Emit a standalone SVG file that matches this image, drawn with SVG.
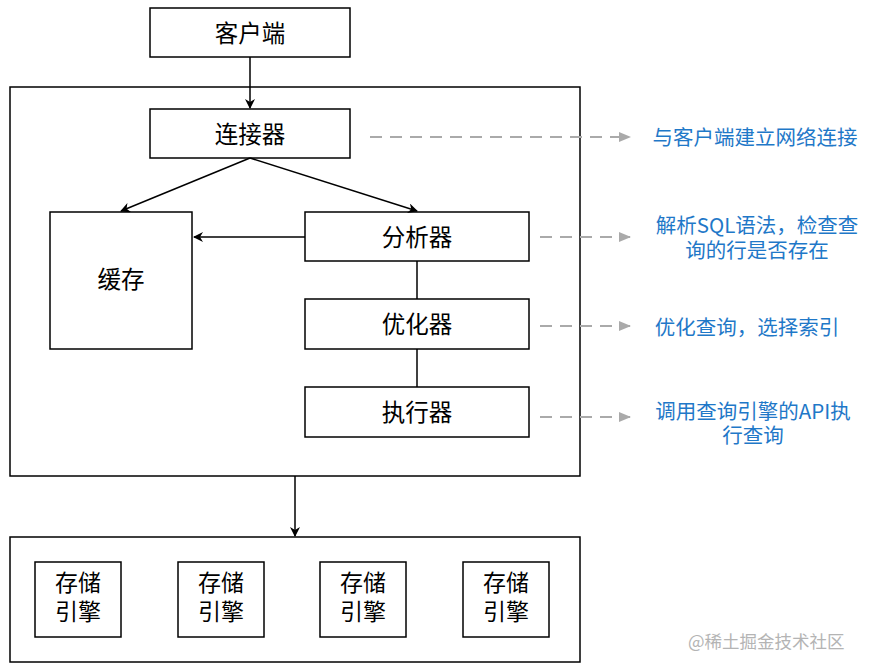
<svg xmlns="http://www.w3.org/2000/svg" width="871" height="671" viewBox="0 0 871 671">
<style>
.box{fill:#fff;stroke:#000;stroke-width:1.5}
.lbl{font-family:"Noto Sans CJK SC","Microsoft YaHei",sans-serif;font-size:23.5px;fill:#000;text-anchor:middle;dominant-baseline:central}
.eng{font-family:"Noto Sans CJK SC","Microsoft YaHei",sans-serif;font-size:23px;fill:#000;text-anchor:middle}
.note{font-family:"Noto Sans CJK SC","Microsoft YaHei",sans-serif;font-size:20.5px;fill:#1f78c8;text-anchor:middle;dominant-baseline:central}
.ln{stroke:#000;stroke-width:1.5;fill:none}
.dash{stroke:#aaa;stroke-width:2;stroke-dasharray:12 8;fill:none}
.wm{font-family:"Noto Sans CJK SC",sans-serif;font-size:17.5px;fill:#b4b4b4;dominant-baseline:central}
</style>
<defs>
<marker id="ah" markerWidth="10" markerHeight="10" refX="9" refY="5" orient="auto" markerUnits="userSpaceOnUse"><path d="M0,0 L10,5 L0,10 L3,5 Z" fill="#000"/></marker>
<marker id="gh" markerWidth="12" markerHeight="12" refX="11" refY="6" orient="auto" markerUnits="userSpaceOnUse"><path d="M0,1 L12,6 L0,11 Z" fill="#aaa"/></marker>
</defs>
<rect x="0" y="0" width="871" height="671" fill="#fff"/>
<g id="server"><rect class="box" x="10" y="87" width="570" height="389"/></g>
<g id="client"><rect class="box" x="150" y="8" width="200" height="49"/><text class="lbl" x="250" y="32">客户端</text></g>
<g id="connector"><rect class="box" x="150" y="109" width="200" height="49"/><text class="lbl" x="250" y="133">连接器</text></g>
<g id="cache"><rect class="box" x="50" y="212" width="142" height="137"/><text class="lbl" x="121" y="278">缓存</text></g>
<g id="analyzer"><rect class="box" x="305" y="212" width="224" height="49"/><text class="lbl" x="417" y="236">分析器</text></g>
<g id="optimizer"><rect class="box" x="305" y="299" width="224" height="50"/><text class="lbl" x="417" y="323">优化器</text></g>
<g id="executor"><rect class="box" x="305" y="387" width="224" height="50"/><text class="lbl" x="417" y="411">执行器</text></g>
<g id="storage"><rect class="box" x="10" y="537" width="570" height="125"/></g>
<g id="engine1"><rect class="box" x="35" y="562" width="86" height="75"/><text class="eng" x="78" y="591">存储<tspan x="78" dy="29">引擎</tspan></text></g>
<g id="engine2"><rect class="box" x="178" y="562" width="86" height="75"/><text class="eng" x="221" y="591">存储<tspan x="221" dy="29">引擎</tspan></text></g>
<g id="engine3"><rect class="box" x="320" y="562" width="86" height="75"/><text class="eng" x="363" y="591">存储<tspan x="363" dy="29">引擎</tspan></text></g>
<g id="engine4"><rect class="box" x="463" y="562" width="86" height="75"/><text class="eng" x="506" y="591">存储<tspan x="506" dy="29">引擎</tspan></text></g>
<g id="connectors">
<line class="ln" x1="250" y1="57" x2="250" y2="108" marker-end="url(#ah)"/>
<line class="ln" x1="250" y1="158" x2="121" y2="211" marker-end="url(#ah)"/>
<line class="ln" x1="250" y1="158" x2="417" y2="211" marker-end="url(#ah)"/>
<line class="ln" x1="305" y1="237" x2="194" y2="237" marker-end="url(#ah)"/>
<line class="ln" x1="417" y1="261" x2="417" y2="299"/>
<line class="ln" x1="417" y1="349" x2="417" y2="387"/>
<line class="ln" x1="295" y1="476" x2="295" y2="536" marker-end="url(#ah)"/>
<line class="dash" x1="370" y1="137" x2="630" y2="137" marker-end="url(#gh)"/>
<line class="dash" x1="540" y1="237" x2="630" y2="237" marker-end="url(#gh)"/>
<line class="dash" x1="540" y1="326" x2="630" y2="326" marker-end="url(#gh)"/>
<line class="dash" x1="540" y1="417" x2="630" y2="417" marker-end="url(#gh)"/>
</g>
<g id="notes">
<text class="note" x="755" y="136">与客户端建立网络连接</text>
<text class="note" x="757" y="224">解析SQL语法，检查查</text>
<text class="note" x="757" y="249">询的行是否存在</text>
<text class="note" x="747" y="326">优化查询，选择索引</text>
<text class="note" x="753" y="410">调用查询引擎的API执</text>
<text class="note" x="753" y="434">行查询</text>
</g>
<text class="wm" x="688" y="640">@稀土掘金技术社区</text>
</svg>
